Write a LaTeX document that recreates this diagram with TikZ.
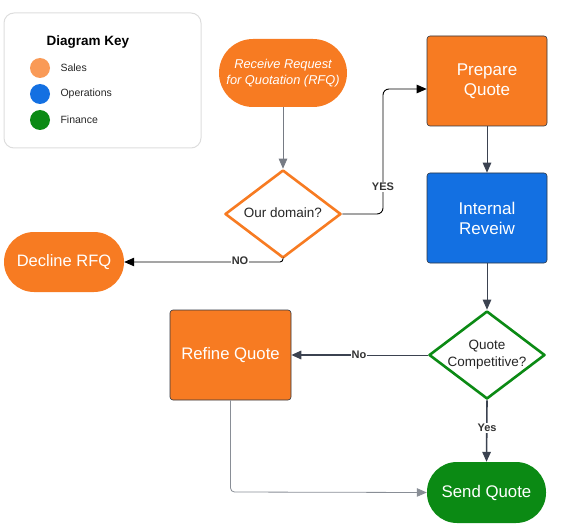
\documentclass[tikz,border=0pt]{standalone}
\usepackage{fontspec}
\setmainfont{Liberation Sans}
\usetikzlibrary{shapes.geometric,arrows.meta}
\definecolor{org}{HTML}{F77B22}
\definecolor{orgl}{HTML}{F99A57}
\definecolor{blu}{HTML}{1370E2}
\definecolor{grn}{HTML}{0B8A14}
\definecolor{ln}{HTML}{3B4250}
\definecolor{keyb}{HTML}{DDDDDD}
\tikzset{
  stadium/.style={draw=none, rounded corners=#1, text=white, align=center},
  procbox/.style={draw=ln!80!black, line width=0.6pt, rounded corners=3pt, minimum width=120pt, minimum height=90pt, text=white, align=center, font=\fontsize{17}{20}\selectfont},
  decision/.style={diamond, draw=#1, line width=2.6pt, line join=round, fill=white, minimum width=116pt, minimum height=88pt, inner sep=0pt},
  dtext/.style={align=center, text=black!85, inner sep=0pt},
  keydot/.style={circle, minimum size=20pt, inner sep=0pt, draw=none},
  keylbl/.style={anchor=west, font=\fontsize{10.5}{12}\selectfont, text=black!85},
  conn/.style={line width=0.9pt, -{Triangle[length=10pt,width=8.5pt]}},
  lbl/.style={fill=white, inner sep=1pt, font=\bfseries\fontsize{11}{13}\selectfont, text=black!80}
}
\begin{document}
\begin{tikzpicture}[x=1pt,y=-1pt]
\useasboundingbox (0,0) rectangle (565,532);
% key
\node[draw=keyb, line width=1pt, rounded corners=10pt, minimum width=197pt, minimum height=135pt] (key) at (102.5,80.5) {};
\node[font=\bfseries\fontsize{13.5}{15}\selectfont] (keyt) at (88,42) {Diagram Key};
\node[keydot, fill=orgl] (k1) at (40,68) {};
\node[keydot, fill=blu] (k2) at (40,94) {};
\node[keydot, fill=grn] (k3) at (40,120) {};
\node[keylbl] (l1) at (57,68) {Sales};
\node[keylbl] (l2) at (57,94) {Operations};
\node[keylbl] (l3) at (57,120) {Finance};
% nodes
\node[stadium=34pt, fill=org, minimum width=128pt, minimum height=68pt, font=\itshape\fontsize{12.8}{16}\selectfont] (rfq) at (283,73) {Receive Request\\for Quotation (RFQ)};
\node[decision=org] (dom) at (283,214) {};
\node[dtext, font=\fontsize{13.5}{15}\selectfont] (domt) at (283,213) {Our domain?};
\node[stadium=30pt, fill=org, minimum width=120pt, minimum height=60pt, font=\fontsize{16.5}{19}\selectfont] (dec) at (64,262) {Decline RFQ};
\node[procbox, fill=org] (prep) at (487,81) {Prepare\\Quote};
\node[procbox, fill=blu] (rev) at (487,218) {Internal\\Reveiw};
\node[decision=grn] (comp) at (487,355) {};
\node[dtext, font=\fontsize{13.5}{17}\selectfont] (compt) at (487,355) {Quote\\Competitive?};
\node[procbox, fill=org, minimum width=121pt, font=\fontsize{16.7}{19}\selectfont] (ref) at (230.5,355) {Refine Quote};
\node[stadium=30pt, fill=grn, minimum width=119pt, minimum height=61pt, font=\fontsize{16.8}{19}\selectfont] (send) at (486.5,492.5) {Send Quote};
% connectors
\draw[conn, draw=ln!70, line width=0.8pt] (rfq.south) -- (dom.north);
\draw[conn, black, rounded corners=6pt] (dom.east) -- (383,214) -- (383,89) -- (prep.west |- 0,89);
\node[lbl] (yes) at (383,187) {YES};
\draw[conn, black, rounded corners=3pt] (dom.south) -- (283,262) -- (dec.east);
\node[lbl] (no1) at (240,261) {NO};
\draw[conn, draw=ln, line width=1pt] (prep.south) -- (rev.north);
\draw[conn, draw=ln, line width=1pt] (rev.south) -- (comp.north);
\draw[draw=ln, line width=0.8pt] (comp.west) -- (359,355);
\draw[conn, draw=ln, line width=1.6pt] (359,355) -- (ref.east);
\node[lbl] (no2) at (359,355) {No};
\draw[conn, draw=ln, line width=1.6pt] (comp.south) -- (send.north);
\node[lbl] (yes2) at (487,428) {Yes};
\draw[conn, draw=ln!60, line width=0.8pt, rounded corners=4pt] (ref.south) -- (230.5,492) -- (send.west);
\end{tikzpicture}
\end{document}
